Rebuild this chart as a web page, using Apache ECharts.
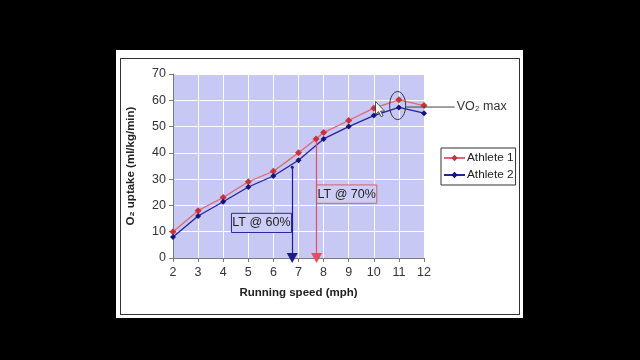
<!DOCTYPE html>
<html><head><meta charset="utf-8">
<script src="https://cdn.jsdelivr.net/npm/echarts@6/dist/echarts.min.js"></script>
<style>
html,body{margin:0;padding:0;background:#000;width:640px;height:360px;overflow:hidden}
#paper{position:absolute;left:116px;top:50px;width:407px;height:268px;background:#fff}
#frame{position:absolute;left:120px;top:58px;width:398px;height:255px;border:1.5px solid #333;}
#chart{position:absolute;left:0;top:0;width:640px;height:360px}
</style></head><body>
<div id="paper"></div><div id="frame"></div><div id="chart"></div>
<script>
// Data
const speed1 = [2, 3, 4, 5, 6, 7, 7.7, 8, 9, 10, 11, 12];
const athlete1 = [10, 18, 23, 29, 33, 40, 45.3, 47.7, 52.3, 57, 60.2, 58];
const speed2 = [2, 3, 4, 5, 6, 7, 8, 9, 10, 11, 12];
const athlete2 = [8, 16, 21.4, 27, 31.2, 37.2, 45.3, 50, 54.2, 57.3, 55.1];
const seriesNames = ['Athlete 1', 'Athlete 2'];
const lt60Arrow = [6.75, 34.5];   // speed, start O2 of arrow
const lt70Arrow = [7.72, 44.3];
const lt60Label = 'LT @ 60%';
const lt70Label = 'LT @ 70%';
const vo2Point = [10.95, 58];
const vo2Label = 'VO\u2082 max';

const FONT = '"Liberation Sans", Arial, "DejaVu Sans", sans-serif';
const chart = echarts.init(document.getElementById('chart'), null, {renderer: 'canvas'});

const pairs = (xs, ys) => xs.map((x, i) => [x, ys[i]]);

chart.setOption({
  backgroundColor: 'transparent',
  animation: false,
  textStyle: {fontFamily: FONT},
  grid: {left: 173, right: 216, top: 74, bottom: 102, show: true,
         backgroundColor: '#c8c8f4', borderWidth: 0},
  legend: {
    orient: 'vertical', left: 441, top: 148,
    data: seriesNames,
    backgroundColor: '#fff', borderColor: '#333', borderWidth: 1,
    padding: [4, 2, 4, 2], itemGap: 5, itemWidth: 21, itemHeight: 8,
    textStyle: {fontSize: 11.8, color: '#222', fontFamily: FONT, padding: [0, 0, 0, -3]}
  },
  xAxis: {
    type: 'value', min: 2, max: 12, interval: 1,
    name: 'Running speed (mph)', nameLocation: 'middle', nameGap: 29,
    nameTextStyle: {fontSize: 11.5, fontWeight: 'bold', color: '#222', fontFamily: FONT},
    axisLine: {lineStyle: {color: '#7a7a7a'}},
    axisTick: {length: 4, lineStyle: {color: '#7a7a7a'}},
    axisLabel: {fontSize: 12.5, color: '#333', margin: 8, fontFamily: FONT},
    splitLine: {lineStyle: {color: '#ffffff', width: 1}}
  },
  yAxis: {
    type: 'value', min: 0, max: 70, interval: 10,
    name: 'O\u2082 uptake (ml/kg/min)', nameLocation: 'middle', nameGap: 36,
    nameTextStyle: {fontSize: 11.5, fontWeight: 'bold', color: '#222', fontFamily: FONT},
    axisLine: {show: true, lineStyle: {color: '#7a7a7a'}},
    axisTick: {show: true, length: 4, lineStyle: {color: '#7a7a7a'}},
    axisLabel: {fontSize: 12.5, color: '#333', margin: 7, fontFamily: FONT},
    splitLine: {lineStyle: {color: '#ffffff', width: 1}}
  },
  series: [
    {
      name: seriesNames[0], type: 'line', data: pairs(speed1, athlete1),
      symbol: 'diamond', symbolSize: 7, showAllSymbol: true,
      lineStyle: {color: '#e06676', width: 1.3},
      itemStyle: {color: '#c8323c'},
      z: 3,
      markLine: {
        silent: true, animation: false,
        label: {show: false},
        lineStyle: {color: '#e05060', width: 1.2, type: 'solid'},
        data: [[
          {coord: lt70Arrow, symbol: 'none'},
          {coord: [lt70Arrow[0], 0], symbol: 'triangle', symbolSize: [11, 10], itemStyle: {color: '#e02828'}}
        ]]
      }
    },
    {
      name: seriesNames[1], type: 'line', data: pairs(speed2, athlete2),
      symbol: 'diamond', symbolSize: 6, showAllSymbol: true,
      lineStyle: {color: '#24249a', width: 1.3},
      itemStyle: {color: '#14147a'},
      z: 4,
      markLine: {
        silent: true, animation: false,
        label: {show: false},
        lineStyle: {color: '#1c1c8c', width: 1.2, type: 'solid'},
        data: [[
          {coord: lt60Arrow, symbol: 'circle', symbolSize: 3, itemStyle: {color: '#1c1c8c'}},
          {coord: [lt60Arrow[0], 0], symbol: 'triangle', symbolSize: [11, 10], itemStyle: {color: '#1010b0'}}
        ]]
      }
    }
  ]
});

const p = (x, y) => chart.convertToPixel({gridIndex: 0}, [x, y]);
function box(x0, y0, x1, y1, text, stroke) {
  const a = p(x0, y0), b = p(x1, y1);
  return {
    type: 'group', z: 50, children: [
      {type: 'rect', shape: {x: a[0], y: a[1], width: b[0] - a[0], height: b[1] - a[1]},
       style: {fill: '#cdcdf6', stroke: stroke, lineWidth: 1}},
      {type: 'text', x: (a[0] + b[0]) / 2, y: (a[1] + b[1]) / 2,
       style: {text: text, fill: '#222', font: '12.5px ' + FONT, align: 'center', verticalAlign: 'middle'}}
    ]
  };
}
const c = p(vo2Point[0], vo2Point[1]);
const tip = p(10.07, 59.5);
chart.setOption({
  graphic: [
    box(4.33, 17, 6.72, 9.7, lt60Label, '#2a2a9a'),
    box(7.72, 27.8, 10.12, 20.8, lt70Label, '#d06070'),
    {type: 'ellipse', z: 50, shape: {cx: c[0], cy: c[1], rx: 8, ry: 14},
     style: {fill: 'none', stroke: '#333344', lineWidth: 1}},
    {type: 'line', z: 50, shape: {x1: c[0] + 8, y1: c[1] + 1.5, x2: c[0] + 57, y2: c[1] + 1.5},
     style: {stroke: '#444', lineWidth: 1}},
    {type: 'text', z: 50, x: c[0] + 59, y: c[1] + 1.5,
     style: {text: vo2Label, fill: '#333', font: '12.5px ' + FONT, verticalAlign: 'middle'}},
    {type: 'polygon', z: 60, x: tip[0], y: tip[1],
     shape: {points: [[0, 0], [0, 13], [3, 10], [5.5, 15], [7.5, 14], [5, 9.5], [9, 9.5]]},
     style: {fill: '#fff', stroke: '#222', lineWidth: 0.8}}
  ]
});
</script></body></html>
